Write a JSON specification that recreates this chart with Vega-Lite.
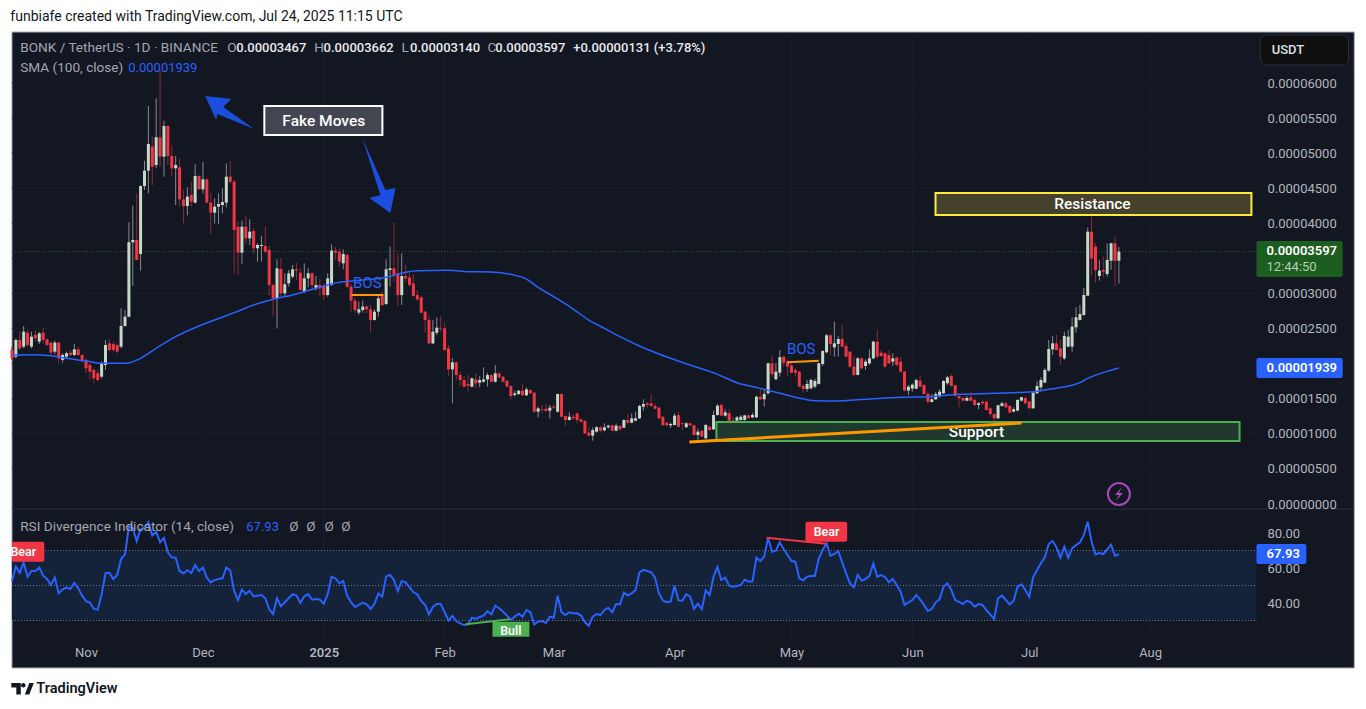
{"$schema":"https://vega.github.io/schema/vega-lite/v6.json","width":1366,"height":709,"padding":0,"autosize":{"type":"none"},"background":"#ffffff",
"config":{"view":{"stroke":null},"text":{"font":"Roboto"}},
"datasets":{"candles":[
{"date":"2024-10-13","open":2.195e-5,"high":2.243e-5,"low":2.053e-5,"close":2.076e-5,"rsi":52.6},
{"date":"2024-10-14","open":2.100e-5,"high":2.361e-5,"low":2.076e-5,"close":2.338e-5,"rsi":60.8},
{"date":"2024-10-15","open":2.338e-5,"high":2.456e-5,"low":2.195e-5,"close":2.219e-5,"rsi":57.3},
{"date":"2024-10-16","open":2.243e-5,"high":2.537e-5,"low":2.219e-5,"close":2.456e-5,"rsi":63.0},
{"date":"2024-10-17","open":2.442e-5,"high":2.480e-5,"low":2.243e-5,"close":2.266e-5,"rsi":55.0},
{"date":"2024-10-18","open":2.243e-5,"high":2.456e-5,"low":2.219e-5,"close":2.385e-5,"rsi":58.3},
{"date":"2024-10-19","open":2.409e-5,"high":2.480e-5,"low":2.314e-5,"close":2.361e-5,"rsi":58.3},
{"date":"2024-10-20","open":2.314e-5,"high":2.456e-5,"low":2.281e-5,"close":2.432e-5,"rsi":60.2},
{"date":"2024-10-21","open":2.442e-5,"high":2.513e-5,"low":2.290e-5,"close":2.338e-5,"rsi":55.6},
{"date":"2024-10-22","open":2.347e-5,"high":2.361e-5,"low":2.252e-5,"close":2.266e-5,"rsi":53.7},
{"date":"2024-10-23","open":2.300e-5,"high":2.314e-5,"low":2.124e-5,"close":2.157e-5,"rsi":50.3},
{"date":"2024-10-24","open":2.171e-5,"high":2.328e-5,"low":2.138e-5,"close":2.300e-5,"rsi":54.5},
{"date":"2024-10-25","open":2.300e-5,"high":2.314e-5,"low":2.005e-5,"close":2.076e-5,"rsi":45.5},
{"date":"2024-10-26","open":2.053e-5,"high":2.148e-5,"low":2.015e-5,"close":2.124e-5,"rsi":47.8},
{"date":"2024-10-27","open":2.100e-5,"high":2.171e-5,"low":2.076e-5,"close":2.148e-5,"rsi":48.8},
{"date":"2024-10-28","open":2.157e-5,"high":2.195e-5,"low":2.100e-5,"close":2.124e-5,"rsi":48.0},
{"date":"2024-10-29","open":2.124e-5,"high":2.281e-5,"low":2.110e-5,"close":2.205e-5,"rsi":51.4},
{"date":"2024-10-30","open":2.205e-5,"high":2.243e-5,"low":2.110e-5,"close":2.124e-5,"rsi":48.4},
{"date":"2024-10-31","open":2.124e-5,"high":2.130e-5,"low":2.005e-5,"close":2.053e-5,"rsi":44.2},
{"date":"2024-11-01","open":2.053e-5,"high":2.076e-5,"low":1.863e-5,"close":1.934e-5,"rsi":41.1},
{"date":"2024-11-02","open":1.981e-5,"high":2.005e-5,"low":1.768e-5,"close":1.886e-5,"rsi":40.2},
{"date":"2024-11-03","open":1.910e-5,"high":1.934e-5,"low":1.720e-5,"close":1.791e-5,"rsi":36.6},
{"date":"2024-11-04","open":1.863e-5,"high":1.910e-5,"low":1.744e-5,"close":1.768e-5,"rsi":36.2},
{"date":"2024-11-05","open":1.815e-5,"high":2.029e-5,"low":1.791e-5,"close":2.005e-5,"rsi":45.0},
{"date":"2024-11-06","open":1.981e-5,"high":2.338e-5,"low":1.910e-5,"close":2.266e-5,"rsi":57.0},
{"date":"2024-11-07","open":2.290e-5,"high":2.347e-5,"low":2.171e-5,"close":2.195e-5,"rsi":57.3},
{"date":"2024-11-08","open":2.281e-5,"high":2.314e-5,"low":2.171e-5,"close":2.195e-5,"rsi":53.7},
{"date":"2024-11-09","open":2.266e-5,"high":2.290e-5,"low":2.148e-5,"close":2.171e-5,"rsi":56.0},
{"date":"2024-11-10","open":2.243e-5,"high":2.789e-5,"low":2.219e-5,"close":2.537e-5,"rsi":65.1},
{"date":"2024-11-11","open":2.537e-5,"high":2.765e-5,"low":2.528e-5,"close":2.670e-5,"rsi":67.8},
{"date":"2024-11-12","open":2.670e-5,"high":4.014e-5,"low":2.661e-5,"close":3.729e-5,"rsi":83.6},
{"date":"2024-11-13","open":3.729e-5,"high":4.252e-5,"low":3.107e-5,"close":3.763e-5,"rsi":82.7},
{"date":"2024-11-14","open":3.763e-5,"high":4.428e-5,"low":3.478e-5,"close":3.478e-5,"rsi":75.4},
{"date":"2024-11-15","open":3.563e-5,"high":4.540e-5,"low":3.326e-5,"close":4.532e-5,"rsi":82.3},
{"date":"2024-11-16","open":4.532e-5,"high":4.893e-5,"low":4.475e-5,"close":4.751e-5,"rsi":83.0},
{"date":"2024-11-17","open":4.751e-5,"high":5.672e-5,"low":4.428e-5,"close":5.131e-5,"rsi":86.1},
{"date":"2024-11-18","open":5.093e-5,"high":5.235e-5,"low":4.546e-5,"close":4.808e-5,"rsi":78.5},
{"date":"2024-11-19","open":4.831e-5,"high":5.781e-5,"low":4.784e-5,"close":5.226e-5,"rsi":80.8},
{"date":"2024-11-20","open":5.226e-5,"high":6.185e-5,"low":4.808e-5,"close":4.950e-5,"rsi":74.7},
{"date":"2024-11-21","open":4.950e-5,"high":5.463e-5,"low":4.665e-5,"close":5.387e-5,"rsi":77.3},
{"date":"2024-11-22","open":5.387e-5,"high":5.401e-5,"low":4.831e-5,"close":4.960e-5,"rsi":69.0},
{"date":"2024-11-23","open":4.960e-5,"high":5.116e-5,"low":4.665e-5,"close":4.784e-5,"rsi":66.1},
{"date":"2024-11-24","open":4.784e-5,"high":4.960e-5,"low":4.261e-5,"close":4.831e-5,"rsi":65.9},
{"date":"2024-11-25","open":4.798e-5,"high":4.926e-5,"low":4.238e-5,"close":4.342e-5,"rsi":58.3},
{"date":"2024-11-26","open":4.342e-5,"high":4.475e-5,"low":4.000e-5,"close":4.247e-5,"rsi":57.0},
{"date":"2024-11-27","open":4.247e-5,"high":4.513e-5,"low":4.114e-5,"close":4.380e-5,"rsi":58.7},
{"date":"2024-11-28","open":4.404e-5,"high":4.594e-5,"low":4.238e-5,"close":4.309e-5,"rsi":57.1},
{"date":"2024-11-29","open":4.295e-5,"high":4.841e-5,"low":4.285e-5,"close":4.675e-5,"rsi":61.7},
{"date":"2024-11-30","open":4.675e-5,"high":4.689e-5,"low":4.475e-5,"close":4.485e-5,"rsi":58.3},
{"date":"2024-12-01","open":4.485e-5,"high":4.874e-5,"low":4.428e-5,"close":4.627e-5,"rsi":60.2},
{"date":"2024-12-02","open":4.627e-5,"high":4.641e-5,"low":4.285e-5,"close":4.295e-5,"rsi":54.5},
{"date":"2024-12-03","open":4.295e-5,"high":4.428e-5,"low":3.848e-5,"close":4.152e-5,"rsi":51.8},
{"date":"2024-12-04","open":4.152e-5,"high":4.356e-5,"low":4.000e-5,"close":4.238e-5,"rsi":53.1},
{"date":"2024-12-05","open":4.238e-5,"high":4.428e-5,"low":3.990e-5,"close":4.276e-5,"rsi":53.7},
{"date":"2024-12-06","open":4.261e-5,"high":4.499e-5,"low":4.143e-5,"close":4.304e-5,"rsi":54.1},
{"date":"2024-12-07","open":4.295e-5,"high":4.855e-5,"low":4.228e-5,"close":4.665e-5,"rsi":60.2},
{"date":"2024-12-08","open":4.665e-5,"high":4.888e-5,"low":4.570e-5,"close":4.594e-5,"rsi":58.7},
{"date":"2024-12-09","open":4.594e-5,"high":4.618e-5,"low":3.288e-5,"close":3.905e-5,"rsi":46.9},
{"date":"2024-12-10","open":3.953e-5,"high":4.024e-5,"low":3.264e-5,"close":3.582e-5,"rsi":41.7},
{"date":"2024-12-11","open":3.582e-5,"high":4.038e-5,"low":3.421e-5,"close":3.953e-5,"rsi":47.6},
{"date":"2024-12-12","open":3.953e-5,"high":4.105e-5,"low":3.715e-5,"close":3.786e-5,"rsi":45.1},
{"date":"2024-12-13","open":3.786e-5,"high":4.057e-5,"low":3.691e-5,"close":3.881e-5,"rsi":47.0},
{"date":"2024-12-14","open":3.891e-5,"high":3.929e-5,"low":3.563e-5,"close":3.644e-5,"rsi":43.8},
{"date":"2024-12-15","open":3.644e-5,"high":3.715e-5,"low":3.454e-5,"close":3.691e-5,"rsi":44.2},
{"date":"2024-12-16","open":3.677e-5,"high":3.820e-5,"low":3.454e-5,"close":3.691e-5,"rsi":44.6},
{"date":"2024-12-17","open":3.677e-5,"high":3.953e-5,"low":3.572e-5,"close":3.596e-5,"rsi":42.7},
{"date":"2024-12-18","open":3.620e-5,"high":3.677e-5,"low":2.979e-5,"close":3.121e-5,"rsi":36.4},
{"date":"2024-12-19","open":3.121e-5,"high":3.145e-5,"low":2.680e-5,"close":2.931e-5,"rsi":33.7},
{"date":"2024-12-20","open":2.931e-5,"high":3.487e-5,"low":2.504e-5,"close":3.359e-5,"rsi":42.7},
{"date":"2024-12-21","open":3.349e-5,"high":3.501e-5,"low":2.955e-5,"close":3.003e-5,"rsi":38.1},
{"date":"2024-12-22","open":3.003e-5,"high":3.288e-5,"low":2.955e-5,"close":3.131e-5,"rsi":40.4},
{"date":"2024-12-23","open":3.145e-5,"high":3.335e-5,"low":3.098e-5,"close":3.288e-5,"rsi":42.7},
{"date":"2024-12-24","open":3.240e-5,"high":3.406e-5,"low":3.216e-5,"close":3.345e-5,"rsi":45.0},
{"date":"2024-12-25","open":3.345e-5,"high":3.440e-5,"low":3.193e-5,"close":3.326e-5,"rsi":44.2},
{"date":"2024-12-26","open":3.297e-5,"high":3.359e-5,"low":3.041e-5,"close":3.050e-5,"rsi":40.0},
{"date":"2024-12-27","open":3.026e-5,"high":3.430e-5,"low":3.003e-5,"close":3.216e-5,"rsi":43.8},
{"date":"2024-12-28","open":3.216e-5,"high":3.359e-5,"low":3.088e-5,"close":3.288e-5,"rsi":45.1},
{"date":"2024-12-29","open":3.288e-5,"high":3.311e-5,"low":3.050e-5,"close":3.121e-5,"rsi":41.9},
{"date":"2024-12-30","open":3.074e-5,"high":3.250e-5,"low":3.041e-5,"close":3.121e-5,"rsi":42.3},
{"date":"2024-12-31","open":3.121e-5,"high":3.216e-5,"low":2.955e-5,"close":3.074e-5,"rsi":41.9},
{"date":"2025-01-01","open":3.107e-5,"high":3.145e-5,"low":2.908e-5,"close":2.979e-5,"rsi":39.6},
{"date":"2025-01-02","open":2.979e-5,"high":3.288e-5,"low":2.955e-5,"close":3.216e-5,"rsi":45.0},
{"date":"2025-01-03","open":3.121e-5,"high":3.701e-5,"low":3.107e-5,"close":3.611e-5,"rsi":54.9},
{"date":"2025-01-04","open":3.611e-5,"high":3.668e-5,"low":3.478e-5,"close":3.582e-5,"rsi":54.1},
{"date":"2025-01-05","open":3.596e-5,"high":3.644e-5,"low":3.373e-5,"close":3.454e-5,"rsi":51.2},
{"date":"2025-01-06","open":3.430e-5,"high":3.630e-5,"low":3.345e-5,"close":3.563e-5,"rsi":52.6},
{"date":"2025-01-07","open":3.549e-5,"high":3.572e-5,"low":3.074e-5,"close":3.098e-5,"rsi":44.2},
{"date":"2025-01-08","open":3.098e-5,"high":3.136e-5,"low":2.741e-5,"close":2.898e-5,"rsi":40.4},
{"date":"2025-01-09","open":2.898e-5,"high":2.931e-5,"low":2.718e-5,"close":2.765e-5,"rsi":37.7},
{"date":"2025-01-10","open":2.727e-5,"high":2.884e-5,"low":2.694e-5,"close":2.775e-5,"rsi":38.9},
{"date":"2025-01-11","open":2.765e-5,"high":2.898e-5,"low":2.727e-5,"close":2.813e-5,"rsi":40.2},
{"date":"2025-01-12","open":2.813e-5,"high":2.836e-5,"low":2.718e-5,"close":2.775e-5,"rsi":39.2},
{"date":"2025-01-13","open":2.775e-5,"high":2.836e-5,"low":2.442e-5,"close":2.622e-5,"rsi":36.6},
{"date":"2025-01-14","open":2.622e-5,"high":2.775e-5,"low":2.613e-5,"close":2.741e-5,"rsi":39.4},
{"date":"2025-01-15","open":2.741e-5,"high":2.979e-5,"low":2.670e-5,"close":2.931e-5,"rsi":45.5},
{"date":"2025-01-16","open":2.979e-5,"high":3.026e-5,"low":2.813e-5,"close":2.836e-5,"rsi":43.6},
{"date":"2025-01-17","open":2.850e-5,"high":3.487e-5,"low":2.836e-5,"close":3.345e-5,"rsi":55.2},
{"date":"2025-01-18","open":3.335e-5,"high":3.668e-5,"low":3.098e-5,"close":3.359e-5,"rsi":56.0},
{"date":"2025-01-19","open":3.359e-5,"high":4.010e-5,"low":3.169e-5,"close":3.264e-5,"rsi":53.1},
{"date":"2025-01-20","open":3.288e-5,"high":3.573e-5,"low":2.822e-5,"close":2.979e-5,"rsi":46.9},
{"date":"2025-01-21","open":2.978e-5,"high":3.572e-5,"low":2.836e-5,"close":3.249e-5,"rsi":52.6},
{"date":"2025-01-22","open":3.249e-5,"high":3.406e-5,"low":3.168e-5,"close":3.216e-5,"rsi":51.8},
{"date":"2025-01-23","open":3.230e-5,"high":3.287e-5,"low":3.097e-5,"close":3.121e-5,"rsi":49.1},
{"date":"2025-01-24","open":3.145e-5,"high":3.278e-5,"low":2.955e-5,"close":2.964e-5,"rsi":46.1},
{"date":"2025-01-25","open":2.978e-5,"high":3.050e-5,"low":2.898e-5,"close":2.917e-5,"rsi":45.0},
{"date":"2025-01-26","open":2.945e-5,"high":2.964e-5,"low":2.717e-5,"close":2.727e-5,"rsi":41.1},
{"date":"2025-01-27","open":2.741e-5,"high":2.755e-5,"low":2.442e-5,"close":2.622e-5,"rsi":38.9},
{"date":"2025-01-28","open":2.622e-5,"high":2.693e-5,"low":2.280e-5,"close":2.289e-5,"rsi":33.5},
{"date":"2025-01-29","open":2.289e-5,"high":2.622e-5,"low":2.280e-5,"close":2.456e-5,"rsi":37.7},
{"date":"2025-01-30","open":2.441e-5,"high":2.660e-5,"low":2.408e-5,"close":2.513e-5,"rsi":39.4},
{"date":"2025-01-31","open":2.503e-5,"high":2.670e-5,"low":2.456e-5,"close":2.494e-5,"rsi":39.4},
{"date":"2025-02-01","open":2.503e-5,"high":2.584e-5,"low":2.185e-5,"close":2.195e-5,"rsi":34.7},
{"date":"2025-02-02","open":2.218e-5,"high":2.266e-5,"low":1.824e-5,"close":1.919e-5,"rsi":29.9},
{"date":"2025-02-03","open":1.919e-5,"high":2.076e-5,"low":1.435e-5,"close":2.019e-5,"rsi":32.6},
{"date":"2025-02-04","open":2.019e-5,"high":2.028e-5,"low":1.776e-5,"close":1.838e-5,"rsi":29.7},
{"date":"2025-02-05","open":1.838e-5,"high":1.886e-5,"low":1.681e-5,"close":1.767e-5,"rsi":28.4},
{"date":"2025-02-06","open":1.767e-5,"high":1.824e-5,"low":1.662e-5,"close":1.672e-5,"rsi":27.4},
{"date":"2025-02-07","open":1.710e-5,"high":1.838e-5,"low":1.601e-5,"close":1.686e-5,"rsi":27.8},
{"date":"2025-02-08","open":1.672e-5,"high":1.805e-5,"low":1.662e-5,"close":1.791e-5,"rsi":31.6},
{"date":"2025-02-09","open":1.776e-5,"high":1.862e-5,"low":1.648e-5,"close":1.719e-5,"rsi":30.9},
{"date":"2025-02-10","open":1.729e-5,"high":1.824e-5,"low":1.662e-5,"close":1.767e-5,"rsi":32.0},
{"date":"2025-02-11","open":1.743e-5,"high":1.947e-5,"low":1.729e-5,"close":1.776e-5,"rsi":32.8},
{"date":"2025-02-12","open":1.776e-5,"high":1.871e-5,"low":1.672e-5,"close":1.838e-5,"rsi":35.4},
{"date":"2025-02-13","open":1.838e-5,"high":1.852e-5,"low":1.729e-5,"close":1.743e-5,"rsi":33.5},
{"date":"2025-02-14","open":1.743e-5,"high":1.981e-5,"low":1.729e-5,"close":1.862e-5,"rsi":38.5},
{"date":"2025-02-15","open":1.862e-5,"high":1.886e-5,"low":1.791e-5,"close":1.805e-5,"rsi":37.0},
{"date":"2025-02-16","open":1.814e-5,"high":1.824e-5,"low":1.729e-5,"close":1.743e-5,"rsi":35.0},
{"date":"2025-02-17","open":1.757e-5,"high":1.767e-5,"low":1.662e-5,"close":1.672e-5,"rsi":32.8},
{"date":"2025-02-18","open":1.681e-5,"high":1.691e-5,"low":1.492e-5,"close":1.539e-5,"rsi":30.3},
{"date":"2025-02-19","open":1.553e-5,"high":1.615e-5,"low":1.530e-5,"close":1.577e-5,"rsi":32.2},
{"date":"2025-02-20","open":1.567e-5,"high":1.625e-5,"low":1.553e-5,"close":1.615e-5,"rsi":33.9},
{"date":"2025-02-21","open":1.615e-5,"high":1.710e-5,"low":1.539e-5,"close":1.549e-5,"rsi":32.2},
{"date":"2025-02-22","open":1.549e-5,"high":1.662e-5,"low":1.539e-5,"close":1.634e-5,"rsi":36.0},
{"date":"2025-02-23","open":1.625e-5,"high":1.634e-5,"low":1.568e-5,"close":1.577e-5,"rsi":34.7},
{"date":"2025-02-24","open":1.587e-5,"high":1.601e-5,"low":1.292e-5,"close":1.316e-5,"rsi":27.8},
{"date":"2025-02-25","open":1.316e-5,"high":1.387e-5,"low":1.235e-5,"close":1.363e-5,"rsi":29.3},
{"date":"2025-02-26","open":1.349e-5,"high":1.411e-5,"low":1.292e-5,"close":1.340e-5,"rsi":29.7},
{"date":"2025-02-27","open":1.358e-5,"high":1.425e-5,"low":1.316e-5,"close":1.325e-5,"rsi":28.6},
{"date":"2025-02-28","open":1.330e-5,"high":1.411e-5,"low":1.216e-5,"close":1.373e-5,"rsi":32.2},
{"date":"2025-03-01","open":1.387e-5,"high":1.420e-5,"low":1.354e-5,"close":1.373e-5,"rsi":31.6},
{"date":"2025-03-02","open":1.316e-5,"high":1.577e-5,"low":1.301e-5,"close":1.567e-5,"rsi":44.2},
{"date":"2025-03-03","open":1.567e-5,"high":1.577e-5,"low":1.235e-5,"close":1.244e-5,"rsi":34.7},
{"date":"2025-03-04","open":1.254e-5,"high":1.268e-5,"low":1.112e-5,"close":1.197e-5,"rsi":33.1},
{"date":"2025-03-05","open":1.197e-5,"high":1.306e-5,"low":1.188e-5,"close":1.244e-5,"rsi":34.7},
{"date":"2025-03-06","open":1.244e-5,"high":1.282e-5,"low":1.197e-5,"close":1.221e-5,"rsi":34.1},
{"date":"2025-03-07","open":1.292e-5,"high":1.301e-5,"low":1.150e-5,"close":1.197e-5,"rsi":34.1},
{"date":"2025-03-08","open":1.207e-5,"high":1.216e-5,"low":1.164e-5,"close":1.173e-5,"rsi":32.8},
{"date":"2025-03-09","open":1.183e-5,"high":1.197e-5,"low":0.998e-5,"close":1.007e-5,"rsi":29.0},
{"date":"2025-03-10","open":1.017e-5,"high":1.102e-5,"low":0.969e-5,"close":0.974e-5,"rsi":27.0},
{"date":"2025-03-11","open":0.974e-5,"high":1.093e-5,"low":0.902e-5,"close":1.055e-5,"rsi":32.2},
{"date":"2025-03-12","open":1.031e-5,"high":1.112e-5,"low":1.017e-5,"close":1.093e-5,"rsi":33.7},
{"date":"2025-03-13","open":1.093e-5,"high":1.112e-5,"low":1.017e-5,"close":1.045e-5,"rsi":33.1},
{"date":"2025-03-14","open":1.050e-5,"high":1.150e-5,"low":1.036e-5,"close":1.093e-5,"rsi":36.0},
{"date":"2025-03-15","open":1.093e-5,"high":1.131e-5,"low":1.074e-5,"close":1.116e-5,"rsi":37.3},
{"date":"2025-03-16","open":1.121e-5,"high":1.131e-5,"low":1.031e-5,"close":1.045e-5,"rsi":34.7},
{"date":"2025-03-17","open":1.045e-5,"high":1.150e-5,"low":1.036e-5,"close":1.116e-5,"rsi":39.4},
{"date":"2025-03-18","open":1.112e-5,"high":1.126e-5,"low":1.045e-5,"close":1.064e-5,"rsi":39.2},
{"date":"2025-03-19","open":1.088e-5,"high":1.207e-5,"low":1.083e-5,"close":1.197e-5,"rsi":45.9},
{"date":"2025-03-20","open":1.197e-5,"high":1.282e-5,"low":1.140e-5,"close":1.159e-5,"rsi":44.2},
{"date":"2025-03-21","open":1.159e-5,"high":1.292e-5,"low":1.150e-5,"close":1.221e-5,"rsi":45.5},
{"date":"2025-03-22","open":1.188e-5,"high":1.316e-5,"low":1.178e-5,"close":1.221e-5,"rsi":47.4},
{"date":"2025-03-23","open":1.221e-5,"high":1.415e-5,"low":1.211e-5,"close":1.397e-5,"rsi":57.5},
{"date":"2025-03-24","open":1.387e-5,"high":1.492e-5,"low":1.330e-5,"close":1.425e-5,"rsi":58.9},
{"date":"2025-03-25","open":1.435e-5,"high":1.458e-5,"low":1.373e-5,"close":1.411e-5,"rsi":58.3},
{"date":"2025-03-26","open":1.435e-5,"high":1.567e-5,"low":1.387e-5,"close":1.397e-5,"rsi":57.5},
{"date":"2025-03-27","open":1.397e-5,"high":1.435e-5,"low":1.349e-5,"close":1.358e-5,"rsi":54.5},
{"date":"2025-03-28","open":1.373e-5,"high":1.387e-5,"low":1.207e-5,"close":1.221e-5,"rsi":45.5},
{"date":"2025-03-29","open":1.244e-5,"high":1.254e-5,"low":1.112e-5,"close":1.126e-5,"rsi":41.5},
{"date":"2025-03-30","open":1.159e-5,"high":1.168e-5,"low":1.112e-5,"close":1.121e-5,"rsi":40.4},
{"date":"2025-03-31","open":1.121e-5,"high":1.159e-5,"low":1.083e-5,"close":1.140e-5,"rsi":40.8},
{"date":"2025-04-01","open":1.126e-5,"high":1.292e-5,"low":1.121e-5,"close":1.259e-5,"rsi":49.9},
{"date":"2025-04-02","open":1.268e-5,"high":1.311e-5,"low":1.093e-5,"close":1.102e-5,"rsi":41.5},
{"date":"2025-04-03","open":1.150e-5,"high":1.164e-5,"low":1.055e-5,"close":1.140e-5,"rsi":41.3},
{"date":"2025-04-04","open":1.093e-5,"high":1.164e-5,"low":1.088e-5,"close":1.150e-5,"rsi":45.0},
{"date":"2025-04-05","open":1.150e-5,"high":1.159e-5,"low":1.112e-5,"close":1.121e-5,"rsi":43.6},
{"date":"2025-04-06","open":1.121e-5,"high":1.135e-5,"low":0.974e-5,"close":0.983e-5,"rsi":36.6},
{"date":"2025-04-07","open":0.983e-5,"high":1.074e-5,"low":0.898e-5,"close":1.031e-5,"rsi":39.6},
{"date":"2025-04-08","open":1.045e-5,"high":1.055e-5,"low":0.950e-5,"close":0.960e-5,"rsi":36.4},
{"date":"2025-04-09","open":0.936e-5,"high":1.140e-5,"low":0.921e-5,"close":1.126e-5,"rsi":47.2},
{"date":"2025-04-10","open":1.102e-5,"high":1.112e-5,"low":1.045e-5,"close":1.055e-5,"rsi":44.6},
{"date":"2025-04-11","open":1.064e-5,"high":1.330e-5,"low":1.055e-5,"close":1.268e-5,"rsi":55.0},
{"date":"2025-04-12","open":1.268e-5,"high":1.425e-5,"low":1.259e-5,"close":1.401e-5,"rsi":60.6},
{"date":"2025-04-13","open":1.411e-5,"high":1.425e-5,"low":1.254e-5,"close":1.259e-5,"rsi":53.1},
{"date":"2025-04-14","open":1.259e-5,"high":1.349e-5,"low":1.244e-5,"close":1.306e-5,"rsi":54.5},
{"date":"2025-04-15","open":1.292e-5,"high":1.349e-5,"low":1.178e-5,"close":1.188e-5,"rsi":49.9},
{"date":"2025-04-16","open":1.197e-5,"high":1.244e-5,"low":1.159e-5,"close":1.188e-5,"rsi":49.3},
{"date":"2025-04-17","open":1.188e-5,"high":1.254e-5,"low":1.159e-5,"close":1.235e-5,"rsi":49.7},
{"date":"2025-04-18","open":1.197e-5,"high":1.268e-5,"low":1.188e-5,"close":1.244e-5,"rsi":50.3},
{"date":"2025-04-19","open":1.197e-5,"high":1.273e-5,"low":1.188e-5,"close":1.263e-5,"rsi":53.3},
{"date":"2025-04-20","open":1.263e-5,"high":1.282e-5,"low":1.216e-5,"close":1.225e-5,"rsi":52.2},
{"date":"2025-04-21","open":1.235e-5,"high":1.301e-5,"low":1.225e-5,"close":1.268e-5,"rsi":52.4},
{"date":"2025-04-22","open":1.235e-5,"high":1.544e-5,"low":1.225e-5,"close":1.529e-5,"rsi":65.9},
{"date":"2025-04-23","open":1.529e-5,"high":1.648e-5,"low":1.482e-5,"close":1.492e-5,"rsi":64.0},
{"date":"2025-04-24","open":1.492e-5,"high":1.625e-5,"low":1.388e-5,"close":1.568e-5,"rsi":66.5},
{"date":"2025-04-25","open":1.578e-5,"high":2.015e-5,"low":1.559e-5,"close":2.005e-5,"rsi":77.3},
{"date":"2025-04-26","open":2.005e-5,"high":2.114e-5,"low":1.806e-5,"close":1.853e-5,"rsi":69.3},
{"date":"2025-04-27","open":1.777e-5,"high":2.005e-5,"low":1.768e-5,"close":1.886e-5,"rsi":69.9},
{"date":"2025-04-28","open":1.872e-5,"high":2.195e-5,"low":1.815e-5,"close":2.091e-5,"rsi":74.7},
{"date":"2025-04-29","open":2.100e-5,"high":2.110e-5,"low":1.958e-5,"close":2.015e-5,"rsi":70.7},
{"date":"2025-04-30","open":2.029e-5,"high":2.053e-5,"low":1.825e-5,"close":1.958e-5,"rsi":67.4},
{"date":"2025-05-01","open":1.972e-5,"high":1.995e-5,"low":1.863e-5,"close":1.872e-5,"rsi":64.0},
{"date":"2025-05-02","open":1.910e-5,"high":1.934e-5,"low":1.815e-5,"close":1.872e-5,"rsi":63.6},
{"date":"2025-05-03","open":1.886e-5,"high":1.896e-5,"low":1.663e-5,"close":1.673e-5,"rsi":54.1},
{"date":"2025-05-04","open":1.682e-5,"high":1.711e-5,"low":1.587e-5,"close":1.644e-5,"rsi":53.0},
{"date":"2025-05-05","open":1.639e-5,"high":1.768e-5,"low":1.601e-5,"close":1.711e-5,"rsi":55.0},
{"date":"2025-05-06","open":1.649e-5,"high":1.787e-5,"low":1.635e-5,"close":1.768e-5,"rsi":55.4},
{"date":"2025-05-07","open":1.673e-5,"high":1.787e-5,"low":1.649e-5,"close":1.753e-5,"rsi":55.4},
{"date":"2025-05-08","open":1.711e-5,"high":2.015e-5,"low":1.701e-5,"close":2.005e-5,"rsi":65.5},
{"date":"2025-05-09","open":1.996e-5,"high":2.195e-5,"low":1.967e-5,"close":2.181e-5,"rsi":70.3},
{"date":"2025-05-10","open":2.162e-5,"high":2.423e-5,"low":2.148e-5,"close":2.404e-5,"rsi":74.1},
{"date":"2025-05-11","open":2.404e-5,"high":2.423e-5,"low":2.124e-5,"close":2.281e-5,"rsi":66.9},
{"date":"2025-05-12","open":2.233e-5,"high":2.599e-5,"low":2.100e-5,"close":2.290e-5,"rsi":68.0},
{"date":"2025-05-13","open":2.281e-5,"high":2.395e-5,"low":2.100e-5,"close":2.352e-5,"rsi":69.7},
{"date":"2025-05-14","open":2.352e-5,"high":2.551e-5,"low":2.233e-5,"close":2.243e-5,"rsi":63.2},
{"date":"2025-05-15","open":2.252e-5,"high":2.290e-5,"low":2.091e-5,"close":2.100e-5,"rsi":57.0},
{"date":"2025-05-16","open":2.171e-5,"high":2.181e-5,"low":1.943e-5,"close":1.958e-5,"rsi":51.2},
{"date":"2025-05-17","open":1.958e-5,"high":2.100e-5,"low":1.825e-5,"close":1.839e-5,"rsi":49.0},
{"date":"2025-05-18","open":1.839e-5,"high":2.091e-5,"low":1.834e-5,"close":2.076e-5,"rsi":56.0},
{"date":"2025-05-19","open":2.076e-5,"high":2.100e-5,"low":1.920e-5,"close":1.934e-5,"rsi":52.8},
{"date":"2025-05-20","open":1.967e-5,"high":2.062e-5,"low":1.910e-5,"close":2.029e-5,"rsi":53.7},
{"date":"2025-05-21","open":2.005e-5,"high":2.205e-5,"low":1.981e-5,"close":2.076e-5,"rsi":55.6},
{"date":"2025-05-22","open":2.076e-5,"high":2.328e-5,"low":2.062e-5,"close":2.314e-5,"rsi":62.5},
{"date":"2025-05-23","open":2.314e-5,"high":2.480e-5,"low":2.076e-5,"close":2.100e-5,"rsi":55.0},
{"date":"2025-05-24","open":2.157e-5,"high":2.195e-5,"low":2.100e-5,"close":2.110e-5,"rsi":56.0},
{"date":"2025-05-25","open":2.148e-5,"high":2.157e-5,"low":1.934e-5,"close":1.958e-5,"rsi":54.9},
{"date":"2025-05-26","open":2.124e-5,"high":2.195e-5,"low":1.995e-5,"close":2.005e-5,"rsi":51.8},
{"date":"2025-05-27","open":2.029e-5,"high":2.148e-5,"low":1.967e-5,"close":2.076e-5,"rsi":53.7},
{"date":"2025-05-28","open":2.086e-5,"high":2.100e-5,"low":1.958e-5,"close":1.981e-5,"rsi":50.3},
{"date":"2025-05-29","open":2.029e-5,"high":2.100e-5,"low":1.872e-5,"close":1.886e-5,"rsi":46.5},
{"date":"2025-05-30","open":1.886e-5,"high":1.896e-5,"low":1.606e-5,"close":1.616e-5,"rsi":38.9},
{"date":"2025-05-31","open":1.616e-5,"high":1.696e-5,"low":1.554e-5,"close":1.673e-5,"rsi":40.4},
{"date":"2025-06-01","open":1.644e-5,"high":1.720e-5,"low":1.601e-5,"close":1.701e-5,"rsi":41.7},
{"date":"2025-06-02","open":1.644e-5,"high":1.787e-5,"low":1.635e-5,"close":1.768e-5,"rsi":44.6},
{"date":"2025-06-03","open":1.758e-5,"high":1.825e-5,"low":1.663e-5,"close":1.673e-5,"rsi":42.1},
{"date":"2025-06-04","open":1.696e-5,"high":1.706e-5,"low":1.559e-5,"close":1.568e-5,"rsi":38.9},
{"date":"2025-06-05","open":1.568e-5,"high":1.601e-5,"low":1.425e-5,"close":1.459e-5,"rsi":35.4},
{"date":"2025-06-06","open":1.454e-5,"high":1.568e-5,"low":1.445e-5,"close":1.492e-5,"rsi":36.6},
{"date":"2025-06-07","open":1.492e-5,"high":1.597e-5,"low":1.483e-5,"close":1.568e-5,"rsi":40.4},
{"date":"2025-06-08","open":1.530e-5,"high":1.635e-5,"low":1.521e-5,"close":1.601e-5,"rsi":42.1},
{"date":"2025-06-09","open":1.578e-5,"high":1.768e-5,"low":1.568e-5,"close":1.753e-5,"rsi":49.3},
{"date":"2025-06-10","open":1.720e-5,"high":1.825e-5,"low":1.696e-5,"close":1.806e-5,"rsi":51.2},
{"date":"2025-06-11","open":1.825e-5,"high":1.853e-5,"low":1.673e-5,"close":1.682e-5,"rsi":47.4},
{"date":"2025-06-12","open":1.692e-5,"high":1.701e-5,"low":1.530e-5,"close":1.540e-5,"rsi":41.7},
{"date":"2025-06-13","open":1.540e-5,"high":1.549e-5,"low":1.378e-5,"close":1.506e-5,"rsi":40.6},
{"date":"2025-06-14","open":1.511e-5,"high":1.530e-5,"low":1.459e-5,"close":1.473e-5,"rsi":39.4},
{"date":"2025-06-15","open":1.473e-5,"high":1.540e-5,"low":1.464e-5,"close":1.511e-5,"rsi":41.3},
{"date":"2025-06-16","open":1.521e-5,"high":1.606e-5,"low":1.464e-5,"close":1.473e-5,"rsi":40.4},
{"date":"2025-06-17","open":1.483e-5,"high":1.506e-5,"low":1.388e-5,"close":1.411e-5,"rsi":37.9},
{"date":"2025-06-18","open":1.411e-5,"high":1.454e-5,"low":1.350e-5,"close":1.435e-5,"rsi":39.4},
{"date":"2025-06-19","open":1.459e-5,"high":1.473e-5,"low":1.411e-5,"close":1.435e-5,"rsi":38.9},
{"date":"2025-06-20","open":1.459e-5,"high":1.473e-5,"low":1.331e-5,"close":1.340e-5,"rsi":36.0},
{"date":"2025-06-21","open":1.364e-5,"high":1.378e-5,"low":1.245e-5,"close":1.283e-5,"rsi":33.5},
{"date":"2025-06-22","open":1.283e-5,"high":1.293e-5,"low":1.160e-5,"close":1.221e-5,"rsi":30.9},
{"date":"2025-06-23","open":1.221e-5,"high":1.416e-5,"low":1.207e-5,"close":1.407e-5,"rsi":42.7},
{"date":"2025-06-24","open":1.397e-5,"high":1.459e-5,"low":1.388e-5,"close":1.435e-5,"rsi":44.2},
{"date":"2025-06-25","open":1.435e-5,"high":1.454e-5,"low":1.369e-5,"close":1.378e-5,"rsi":41.7},
{"date":"2025-06-26","open":1.397e-5,"high":1.411e-5,"low":1.293e-5,"close":1.302e-5,"rsi":39.2},
{"date":"2025-06-27","open":1.316e-5,"high":1.378e-5,"low":1.307e-5,"close":1.350e-5,"rsi":41.3},
{"date":"2025-06-28","open":1.331e-5,"high":1.492e-5,"low":1.321e-5,"close":1.483e-5,"rsi":49.3},
{"date":"2025-06-29","open":1.473e-5,"high":1.530e-5,"low":1.459e-5,"close":1.521e-5,"rsi":50.7},
{"date":"2025-06-30","open":1.511e-5,"high":1.530e-5,"low":1.425e-5,"close":1.435e-5,"rsi":47.4},
{"date":"2025-07-01","open":1.459e-5,"high":1.473e-5,"low":1.354e-5,"close":1.364e-5,"rsi":43.6},
{"date":"2025-07-02","open":1.364e-5,"high":1.606e-5,"low":1.359e-5,"close":1.587e-5,"rsi":54.7},
{"date":"2025-07-03","open":1.578e-5,"high":1.749e-5,"low":1.568e-5,"close":1.682e-5,"rsi":58.9},
{"date":"2025-07-04","open":1.663e-5,"high":1.806e-5,"low":1.601e-5,"close":1.768e-5,"rsi":62.7},
{"date":"2025-07-05","open":1.730e-5,"high":1.939e-5,"low":1.720e-5,"close":1.910e-5,"rsi":66.1},
{"date":"2025-07-06","open":1.901e-5,"high":2.338e-5,"low":1.886e-5,"close":2.209e-5,"rsi":73.7},
{"date":"2025-07-07","open":2.205e-5,"high":2.395e-5,"low":2.124e-5,"close":2.290e-5,"rsi":75.4},
{"date":"2025-07-08","open":2.290e-5,"high":2.409e-5,"low":2.186e-5,"close":2.195e-5,"rsi":71.8},
{"date":"2025-07-09","open":2.219e-5,"high":2.338e-5,"low":1.986e-5,"close":2.100e-5,"rsi":65.9},
{"date":"2025-07-10","open":2.076e-5,"high":2.456e-5,"low":2.053e-5,"close":2.395e-5,"rsi":72.2},
{"date":"2025-07-11","open":2.243e-5,"high":2.480e-5,"low":2.233e-5,"close":2.385e-5,"rsi":65.9},
{"date":"2025-07-12","open":2.243e-5,"high":2.661e-5,"low":2.171e-5,"close":2.528e-5,"rsi":71.2},
{"date":"2025-07-13","open":2.518e-5,"high":2.803e-5,"low":2.442e-5,"close":2.661e-5,"rsi":73.1},
{"date":"2025-07-14","open":2.623e-5,"high":2.836e-5,"low":2.613e-5,"close":2.708e-5,"rsi":74.5},
{"date":"2025-07-15","open":2.694e-5,"high":3.083e-5,"low":2.680e-5,"close":2.979e-5,"rsi":78.9},
{"date":"2025-07-16","open":2.969e-5,"high":3.938e-5,"low":2.965e-5,"close":3.881e-5,"rsi":86.5},
{"date":"2025-07-17","open":3.881e-5,"high":4.095e-5,"low":3.264e-5,"close":3.501e-5,"rsi":75.0},
{"date":"2025-07-18","open":3.668e-5,"high":3.715e-5,"low":3.155e-5,"close":3.335e-5,"rsi":67.8},
{"date":"2025-07-19","open":3.250e-5,"high":3.478e-5,"low":3.183e-5,"close":3.326e-5,"rsi":68.6},
{"date":"2025-07-20","open":3.335e-5,"high":3.525e-5,"low":3.231e-5,"close":3.311e-5,"rsi":68.0},
{"date":"2025-07-21","open":3.278e-5,"high":3.715e-5,"low":3.240e-5,"close":3.478e-5,"rsi":70.7},
{"date":"2025-07-22","open":3.468e-5,"high":3.725e-5,"low":3.335e-5,"close":3.715e-5,"rsi":73.3},
{"date":"2025-07-23","open":3.715e-5,"high":3.810e-5,"low":3.107e-5,"close":3.466e-5,"rsi":66.9},
{"date":"2025-07-24","open":3.467e-5,"high":3.662e-5,"low":3.140e-5,"close":3.597e-5,"rsi":67.93}
],
"sma":[
{"date":"2024-10-13","price":2.124e-5},{"date":"2024-10-18","price":2.128e-5},{"date":"2024-10-23","price":2.114e-5},{"date":"2024-10-27","price":2.076e-5},{"date":"2024-11-01","price":2.038e-5},{"date":"2024-11-05","price":2.005e-5},{"date":"2024-11-11","price":2.005e-5},{"date":"2024-11-15","price":2.076e-5},{"date":"2024-11-19","price":2.219e-5},{"date":"2024-11-24","price":2.385e-5},{"date":"2024-11-30","price":2.537e-5},{"date":"2024-12-04","price":2.622e-5},{"date":"2024-12-09","price":2.727e-5},{"date":"2024-12-14","price":2.836e-5},{"date":"2024-12-19","price":2.917e-5},{"date":"2024-12-24","price":2.979e-5},{"date":"2024-12-30","price":3.074e-5},{"date":"2025-01-05","price":3.159e-5},{"date":"2025-01-09","price":3.183e-5},{"date":"2025-01-17","price":3.231e-5},{"date":"2025-01-22","price":3.302e-5},{"date":"2025-01-25","price":3.325e-5},{"date":"2025-02-02","price":3.330e-5},{"date":"2025-02-07","price":3.311e-5},{"date":"2025-02-13","price":3.306e-5},{"date":"2025-02-18","price":3.273e-5},{"date":"2025-02-22","price":3.206e-5},{"date":"2025-02-25","price":3.088e-5},{"date":"2025-03-01","price":2.955e-5},{"date":"2025-03-06","price":2.779e-5},{"date":"2025-03-10","price":2.622e-5},{"date":"2025-03-14","price":2.503e-5},{"date":"2025-03-18","price":2.385e-5},{"date":"2025-03-23","price":2.252e-5},{"date":"2025-03-28","price":2.138e-5},{"date":"2025-04-05","price":1.981e-5},{"date":"2025-04-12","price":1.848e-5},{"date":"2025-04-17","price":1.729e-5},{"date":"2025-04-23","price":1.648e-5},{"date":"2025-04-28","price":1.578e-5},{"date":"2025-05-02","price":1.521e-5},{"date":"2025-05-07","price":1.473e-5},{"date":"2025-05-12","price":1.468e-5},{"date":"2025-05-21","price":1.497e-5},{"date":"2025-05-29","price":1.521e-5},{"date":"2025-06-05","price":1.530e-5},{"date":"2025-06-13","price":1.563e-5},{"date":"2025-06-22","price":1.578e-5},{"date":"2025-07-02","price":1.601e-5},{"date":"2025-07-06","price":1.634e-5},{"date":"2025-07-14","price":1.730e-5},{"date":"2025-07-16","price":1.791e-5},{"date":"2025-07-21","price":1.890e-5},{"date":"2025-07-24","price":1.939e-5}
]},
"encoding":{"x":{"field":"date","type":"temporal","title":null,"scale":{"type":"utc","nice":false,"padding":0,"domain":[1728512352000,1758792960000]},"axis":{"zindex":1,"orient":"bottom","offset":-69,"values":[1730419200000,1733011200000,1735689600000,1738368000000,1740787200000,1743465600000,1746057600000,1748736000000,1751328000000,1754006400000],"labelExpr":"utcmonth(datum.value)==0?'2025':utcFormat(datum.value,'%b')","labelFontWeight":{"condition":{"test":"utcmonth(datum.value)==0","value":600},"value":400},"title":null,"domain":false,"ticks":false,"tickSize":0,"grid":false,"labelPadding":6,"labelColor":"#b2b5be","labelFont":"Roboto","labelFontSize":13,"labelOverlap":false,"labelFlush":false,"labelBound":false}}},
"resolve":{"scale":{"y":"independent"},"axis":{"y":"independent"}},
"layer":[
{"encoding":{"y":{"field":"price","type":"quantitative","title":null,"scale":{"nice":false,"zero":false,"domain":[-2.9215e-5,7.1829e-5]},"axis":{"zindex":1,"orient":"right","offset":-109,"values":[0,0.000005,0.00001,0.000015,0.00002,0.000025,0.00003,0.000035,0.00004,0.000045,0.00005,0.000055,0.00006],"labelExpr":"datum.value==0.000035||datum.value==0.00002?'':format(datum.value,'.8f')","title":null,"domain":false,"ticks":false,"tickSize":0,"grid":false,"labelPadding":10,"labelColor":"#b2b5be","labelFont":"Roboto","labelFontSize":13,"labelOverlap":false,"labelFlush":false,"labelBound":false}}},
"layer":[
{"data":{"values":[{"date":"2024-10-13","date2":"2025-09-22T09:30:00Z","price":6.7265e-5,"price2":-2.337e-5}]},"mark":{"type":"rect","fill":"#131722","stroke":"#a8abb2","strokeWidth":1},"encoding":{"x2":{"field":"date2"},"y2":{"field":"price2"}}},
{"data":{"values":[{"date":"2024-10-13","date2":"2025-08-28T07:00:00Z","price":0.5e-5},{"date":"2024-10-13","date2":"2025-08-28T07:00:00Z","price":1e-5},{"date":"2024-10-13","date2":"2025-08-28T07:00:00Z","price":1.5e-5},{"date":"2024-10-13","date2":"2025-08-28T07:00:00Z","price":2e-5},{"date":"2024-10-13","date2":"2025-08-28T07:00:00Z","price":2.5e-5},{"date":"2024-10-13","date2":"2025-08-28T07:00:00Z","price":3e-5},{"date":"2024-10-13","date2":"2025-08-28T07:00:00Z","price":3.5e-5},{"date":"2024-10-13","date2":"2025-08-28T07:00:00Z","price":4e-5},{"date":"2024-10-13","date2":"2025-08-28T07:00:00Z","price":4.5e-5},{"date":"2024-10-13","date2":"2025-08-28T07:00:00Z","price":5e-5},{"date":"2024-10-13","date2":"2025-08-28T07:00:00Z","price":5.5e-5},{"date":"2024-10-13","date2":"2025-08-28T07:00:00Z","price":6e-5}]},"mark":{"type":"rule","stroke":"#1a1e29","strokeWidth":1},"encoding":{"x2":{"field":"date2"}}},
{"data":{"values":[{"date":"2024-11-01","price":6.7e-5,"price2":-1.938e-5},{"date":"2024-12-01","price":6.7e-5,"price2":-1.938e-5},{"date":"2025-01-01","price":6.7e-5,"price2":-1.938e-5},{"date":"2025-02-01","price":6.7e-5,"price2":-1.938e-5},{"date":"2025-03-01","price":6.7e-5,"price2":-1.938e-5},{"date":"2025-04-01","price":6.7e-5,"price2":-1.938e-5},{"date":"2025-05-01","price":6.7e-5,"price2":-1.938e-5},{"date":"2025-06-01","price":6.7e-5,"price2":-1.938e-5},{"date":"2025-07-01","price":6.7e-5,"price2":-1.938e-5},{"date":"2025-08-01","price":6.7e-5,"price2":-1.938e-5}]},"mark":{"type":"rule","stroke":"#1a1e29","strokeWidth":1},"encoding":{"y2":{"field":"price2"}}},
{"data":{"values":[{"date":"2024-10-13","date2":"2025-09-22T09:30:00Z","price":-0.0713e-5}]},"mark":{"type":"rule","stroke":"#2a2e39","strokeWidth":1},"encoding":{"x2":{"field":"date2"}}},
{"data":{"values":[{"date":"2024-10-13","date2":"2025-08-28T07:00:00Z","price":3.597e-5}]},"mark":{"type":"rule","stroke":"#22632a","strokeWidth":1,"strokeDash":[1,2]},"encoding":{"x2":{"field":"date2"}}},
{"data":{"name":"candles"},"mark":{"type":"rule","strokeWidth":1},"encoding":{"y":{"field":"low","type":"quantitative","scale":{"nice":false,"zero":false,"domain":[-2.9215e-5,7.1829e-5]}},"y2":{"field":"high"},"color":{"condition":{"test":"datum.close>=datum.open","value":"#868993"},"value":"#8a2c38"}}},
{"data":{"name":"candles"},"mark":{"type":"bar","size":3},"encoding":{"y":{"field":"open","type":"quantitative","scale":{"nice":false,"zero":false,"domain":[-2.9215e-5,7.1829e-5]}},"y2":{"field":"close"},"color":{"condition":{"test":"datum.close>=datum.open","value":"#c8d8c8"},"value":"#f23645"}}},
{"data":{"name":"sma"},"mark":{"type":"line","stroke":"#2962ff","strokeWidth":1.5,"interpolate":"monotone"}},
{"data":{"values":[{"date":"2025-01-08T02:00:00Z","date2":"2025-01-16T07:00:00Z","price":2.978e-5,"price2":2.978e-5},{"date":"2025-04-30","date2":"2025-05-08","price":2.019e-5,"price2":2.042e-5}]},"mark":{"type":"rule","stroke":"#ff9800","strokeWidth":2},"encoding":{"x2":{"field":"date2"},"y2":{"field":"price2"}}},
{"data":{"values":[{"date":"2025-04-11T18:00:00Z","date2":"2025-08-23T23:00:00Z","price":1.169e-5,"price2":0.898e-5}]},"mark":{"type":"rect","fill":"#20392e","stroke":"#4caf50","strokeWidth":2},"encoding":{"x2":{"field":"date2"},"y2":{"field":"price2"}}},
{"data":{"values":[{"date":"2025-06-06T23:00:00Z","date2":"2025-08-27","price":4.432e-5,"price2":4.119e-5}]},"mark":{"type":"rect","fill":"#45412a","stroke":"#ffeb3b","strokeWidth":2},"encoding":{"x2":{"field":"date2"},"y2":{"field":"price2"}}},
{"data":{"values":[{"date":"2024-12-16T18:00:00Z","date2":"2025-01-16T01:00:00Z","price":5.672e-5,"price2":5.259e-5}]},"mark":{"type":"rect","fill":"#434651","stroke":"#ffffff","strokeWidth":2},"encoding":{"x2":{"field":"date2"},"y2":{"field":"price2"}}},
{"data":{"values":[{"date":"2025-06-17T11:00:00Z","price":1.026e-5,"label":"Support"},{"date":"2025-07-17T05:00:00Z","price":4.275e-5,"label":"Resistance"},{"date":"2025-01-01","price":5.458e-5,"label":"Fake Moves"}]},"mark":{"type":"text","color":"#ffffff","fontSize":15.5,"fontWeight":500,"align":"center","baseline":"middle"},"encoding":{"text":{"field":"label"}}},
{"data":{"values":[{"date":"2025-04-04T19:00:00Z","date2":"2025-06-29","price":0.884e-5,"price2":1.154e-5}]},"mark":{"type":"rule","stroke":"#ff9800","strokeWidth":3},"encoding":{"x2":{"field":"date2"},"y2":{"field":"price2"}}},
{"data":{"values":[{"date":"2025-01-12T04:00:00Z","price":3.149e-5,"label":"BOS"},{"date":"2025-05-03T12:00:00Z","price":2.209e-5,"label":"BOS"}]},"mark":{"type":"text","color":"#2962ff","fontSize":15,"align":"center","baseline":"middle"},"encoding":{"text":{"field":"label"}}},
{"data":{"values":[{"date":"2024-12-01T14:00:00Z","price":5.814e-5}]},"mark":{"type":"point","filled":true,"opacity":1,"fill":"#1c4fe0","stroke":null,"size":4,"shape":"M0,0L26,3L18,11L49,33L12,18L11,24Z"}},
{"data":{"values":[{"date":"2025-01-18T02:00:00Z","price":4.147e-5}]},"mark":{"type":"point","filled":true,"opacity":1,"fill":"#1c4fe0","stroke":null,"size":4,"shape":"M0,0L-21,-15L-10,-18L-28,-75L-5,-23L5,-25Z"}},
{"data":{"values":[{"date":"2025-07-24","price":0.1425e-5}]},"mark":{"type":"point","filled":false,"opacity":1,"stroke":"#ab47bc","strokeWidth":2,"size":484,"shape":"circle"}},
{"data":{"values":[{"date":"2025-07-24","price":0.1425e-5}]},"mark":{"type":"point","filled":true,"opacity":1,"fill":"#ab47bc","stroke":null,"size":4,"shape":"M3,-7L-4,1L0,1L-3,7L4,-1L0,-1Z"}},
{"data":{"values":[{"date":"2025-08-29T07:00:00Z","date2":"2025-09-20T22:00:00Z","price":6.684e-5,"price2":6.256e-5}]},"mark":{"type":"rect","fill":"#0f0f0f","stroke":"#2a2e39","strokeWidth":1,"cornerRadius":6},"encoding":{"x2":{"field":"date2"},"y2":{"field":"price2"}}},
{"data":{"values":[{"date":"2025-08-28T07:00:00Z","date2":"2025-09-19T10:00:00Z","price":3.748e-5,"price2":3.235e-5,"kind":"last"},{"date":"2025-08-28T07:00:00Z","date2":"2025-09-19T10:00:00Z","price":2.081e-5,"price2":1.796e-5,"kind":"sma"}]},"mark":{"type":"rect","cornerRadius":2},"encoding":{"x2":{"field":"date2"},"y2":{"field":"price2"},"color":{"condition":{"test":"datum.kind=='last'","value":"#1b5e20"},"value":"#2962ff"}}},
{"data":{"values":[{"date":"2025-08-30T21:00:00Z","price":3.606e-5,"label":"0.00003597"},{"date":"2025-08-30T21:00:00Z","price":1.938e-5,"label":"0.00001939"}]},"mark":{"type":"text","color":"#ffffff","fontSize":13,"fontWeight":600,"align":"left","baseline":"middle"},"encoding":{"text":{"field":"label"}}},
{"data":{"values":[{"date":"2025-08-30T21:00:00Z","price":3.377e-5,"label":"12:44:50"}]},"mark":{"type":"text","color":"#b5cdb5","fontSize":13,"align":"left","baseline":"middle"},"encoding":{"text":{"field":"label"}}},
{"data":{"values":[{"date":"2025-09-01T05:00:00Z","price":6.47e-5,"label":"USDT"}]},"mark":{"type":"text","color":"#dfe0e3","fontSize":13,"fontWeight":500,"align":"left","baseline":"middle"},"encoding":{"text":{"field":"label"}}},
{"data":{"values":[{"date":"2024-10-15T03:00:00Z","price":6.498e-5,"label":"BONK / TetherUS · 1D · BINANCE"},{"date":"2024-12-07T06:00:00Z","price":6.498e-5,"label":"O"},{"date":"2024-12-29T14:00:00Z","price":6.498e-5,"label":"H"},{"date":"2025-01-20T22:00:00Z","price":6.498e-5,"label":"L"},{"date":"2025-02-12","price":6.498e-5,"label":"C"},{"date":"2024-10-15T03:00:00Z","price":6.213e-5,"label":"SMA (100, close)"}]},"mark":{"type":"text","color":"#a3a6af","fontSize":13.6,"align":"left","baseline":"middle"},"encoding":{"text":{"field":"label"}}},
{"data":{"values":[{"date":"2024-12-09T13:00:00Z","price":6.498e-5,"label":"0.00003467"},{"date":"2024-12-31T23:00:00Z","price":6.498e-5,"label":"0.00003662"},{"date":"2025-01-23T03:00:00Z","price":6.498e-5,"label":"0.00003140"},{"date":"2025-02-14","price":6.498e-5,"label":"0.00003597"},{"date":"2025-03-06","price":6.498e-5,"label":"+0.00000131 (+3.78%)"}]},"mark":{"type":"text","color":"#e8e9ec","fontSize":13,"fontWeight":500,"align":"left","baseline":"middle"},"encoding":{"text":{"field":"label"}}},
{"data":{"values":[{"date":"2024-11-11T20:00:00Z","price":6.213e-5,"label":"0.00001939"}]},"mark":{"type":"text","color":"#2962ff","fontSize":13,"align":"left","baseline":"middle"},"encoding":{"text":{"field":"label"}}},
{"data":{"values":[{"date":"2024-10-12T14:00:00Z","price":6.94e-5,"label":"funbiafe created with TradingView.com, Jul 24, 2025 11:15 UTC"}]},"mark":{"type":"text","color":"#131722","fontSize":14,"align":"left","baseline":"middle"},"encoding":{"text":{"field":"label"}}},
{"data":{"values":[{"date":"2024-10-19T06:00:00Z","price":-2.636e-5,"label":"TradingView"}]},"mark":{"type":"text","color":"#131722","fontSize":14.5,"fontWeight":600,"align":"left","baseline":"middle"},"encoding":{"text":{"field":"label"}}},
{"data":{"values":[{"date":"2024-10-12T20:00:00Z","price":-2.551e-5}]},"mark":{"type":"point","filled":true,"opacity":1,"fill":"#131722","stroke":null,"size":4,"shape":"M0,0H9.5V11.5H5V4.5H0ZM9.7,2.3a2.3,2.3 0 1 0 4.6,0a2.3,2.3 0 1 0 -4.6,0ZM13.5,11.5L18,0H22.5L18,11.5Z"}}
]},
{"encoding":{"y":{"field":"rsi","type":"quantitative","title":null,"scale":{"nice":false,"zero":false,"domain":[-20.57,384.57]},"axis":{"zindex":1,"orient":"right","offset":-109,"values":[40,60,80],"format":".2f","title":null,"domain":false,"ticks":false,"tickSize":0,"grid":false,"labelPadding":10,"labelColor":"#b2b5be","labelFont":"Roboto","labelFontSize":13,"labelOverlap":false,"labelFlush":false,"labelBound":false}}},
"layer":[
{"data":{"values":[{"date":"2024-10-13","date2":"2025-08-28T07:00:00Z","rsi":70,"rsi2":30}]},"mark":{"type":"rect","fill":"#14233a"},"encoding":{"x2":{"field":"date2"},"y2":{"field":"rsi2"}}},
{"data":{"values":[{"date":"2024-10-13","date2":"2025-08-28T07:00:00Z","rsi":70},{"date":"2024-10-13","date2":"2025-08-28T07:00:00Z","rsi":50},{"date":"2024-10-13","date2":"2025-08-28T07:00:00Z","rsi":30}]},"mark":{"type":"rule","stroke":"#787b86","strokeWidth":1,"strokeDash":[1,2]},"encoding":{"x2":{"field":"date2"}}},
{"data":{"name":"candles"},"mark":{"type":"line","stroke":"#2962ff","strokeWidth":2}},
{"data":{"values":[{"date":"2025-04-24T14:00:00Z","date2":"2025-05-09T22:00:00Z","rsi":77.3,"rsi2":73.9}]},"mark":{"type":"rule","stroke":"#f23645","strokeWidth":2},"encoding":{"x2":{"field":"date2"},"y2":{"field":"rsi2"}}},
{"data":{"values":[{"date":"2025-02-06T10:00:00Z","date2":"2025-02-17T19:00:00Z","rsi":27.8,"rsi2":30.7}]},"mark":{"type":"rule","stroke":"#4caf50","strokeWidth":2},"encoding":{"x2":{"field":"date2"},"y2":{"field":"rsi2"}}},
{"data":{"values":[{"date":"2024-10-13","date2":"2024-10-21T07:00:00Z","rsi":75.03,"rsi2":63.6},{"date":"2025-05-04T14:00:00Z","date2":"2025-05-15T07:00:00Z","rsi":86.46,"rsi2":75.03}]},"mark":{"type":"rect","fill":"#f23645","cornerRadius":2},"encoding":{"x2":{"field":"date2"},"y2":{"field":"rsi2"}}},
{"data":{"values":[{"date":"2025-02-13T07:00:00Z","date2":"2025-02-22T18:00:00Z","rsi":29.3,"rsi2":20.7}]},"mark":{"type":"rect","fill":"#4caf50"},"encoding":{"x2":{"field":"date2"},"y2":{"field":"rsi2"}}},
{"data":{"values":[{"date":"2024-10-15T22:00:00Z","rsi":69.1,"label":"Bear"},{"date":"2025-05-10","rsi":80.6,"label":"Bear"},{"date":"2025-02-18","rsi":24,"label":"Bull"}]},"mark":{"type":"text","color":"#ffffff","fontSize":12.5,"fontWeight":600,"align":"center","baseline":"middle"},"encoding":{"text":{"field":"label"}}},
{"data":{"values":[{"date":"2025-08-28T07:00:00Z","date2":"2025-09-10T02:00:00Z","rsi":73.7,"rsi2":62.3}]},"mark":{"type":"rect","fill":"#2962ff","cornerRadius":2},"encoding":{"x2":{"field":"date2"},"y2":{"field":"rsi2"}}},
{"data":{"values":[{"date":"2025-08-30T21:00:00Z","rsi":68,"label":"67.93"}]},"mark":{"type":"text","color":"#ffffff","fontSize":13,"fontWeight":600,"align":"left","baseline":"middle"},"encoding":{"text":{"field":"label"}}},
{"data":{"values":[{"date":"2024-10-15T03:00:00Z","rsi":83.43,"label":"RSI Divergence Indicator (14, close)"},{"date":"2024-12-23T04:00:00Z","rsi":83.43,"label":"Ø"},{"date":"2024-12-27T12:00:00Z","rsi":83.43,"label":"Ø"},{"date":"2025-01-01T04:00:00Z","rsi":83.43,"label":"Ø"},{"date":"2025-01-05T12:00:00Z","rsi":83.43,"label":"Ø"}]},"mark":{"type":"text","color":"#a3a6af","fontSize":13.6,"align":"left","baseline":"middle"},"encoding":{"text":{"field":"label"}}},
{"data":{"values":[{"date":"2024-12-12T03:00:00Z","rsi":83.43,"label":"67.93"}]},"mark":{"type":"text","color":"#2962ff","fontSize":13,"align":"left","baseline":"middle"},"encoding":{"text":{"field":"label"}}}
]}
]}
